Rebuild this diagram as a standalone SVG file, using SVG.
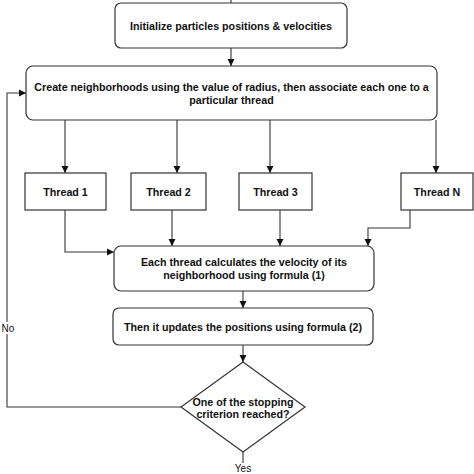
<svg xmlns="http://www.w3.org/2000/svg" width="474" height="474" viewBox="0 0 474 474">
<defs>
<marker id="ah" markerWidth="8" markerHeight="8" refX="7" refY="4" orient="auto" markerUnits="userSpaceOnUse">
<path d="M0,0.5 L7,4 L0,7.5 Z" fill="#111"/>
</marker>
<style>
.box{fill:#fff;stroke:#333;stroke-width:1.2}
.t{font-family:"Liberation Sans",Arial,sans-serif;font-size:10.7px;font-weight:bold;fill:#111;text-anchor:middle}
.n{font-family:"Liberation Sans",Arial,sans-serif;font-size:10px;fill:#111;text-anchor:middle}
.c{fill:none;stroke:#333;stroke-width:1.1}
.a{fill:none;stroke:#333;stroke-width:1.1;marker-end:url(#ah)}
</style>
</defs>
<rect width="474" height="474" fill="#fff"/>
<g id="connectors">
<line class="c" x1="231" y1="0" x2="231" y2="3"/>
<line class="a" x1="231" y1="48" x2="231" y2="66"/>
<line class="a" x1="65" y1="120" x2="65" y2="173"/>
<line class="a" x1="177" y1="120" x2="177" y2="173"/>
<line class="a" x1="270" y1="120" x2="270" y2="173"/>
<line class="a" x1="436" y1="120" x2="436" y2="173"/>
<polyline class="a" points="65,210 65,252 114,252"/>
<line class="a" x1="172" y1="210" x2="172" y2="246"/>
<line class="a" x1="280" y1="210" x2="280" y2="246"/>
<polyline class="a" points="410,210 410,228 368,228 368,246"/>
<line class="a" x1="243" y1="291" x2="243" y2="308"/>
<line class="a" x1="243" y1="345" x2="243" y2="362"/>
<polyline class="a" points="181,407 7,407 7,93 26,93"/>
<line class="c" x1="243" y1="452" x2="243" y2="463"/>
</g>
<g id="init">
<rect class="box" x="115" y="3" width="232" height="45" rx="6"/>
<text class="t" x="231" y="29.5">Initialize particles positions &amp; velocities</text>
</g>
<g id="create">
<rect class="box" x="26" y="66" width="411" height="54" rx="7"/>
<text class="t" x="231.5" y="90.5">Create neighborhoods using the value of radius, then associate each one to a</text>
<text class="t" x="231.5" y="104">particular thread</text>
</g>
<g id="thread1">
<rect class="box" x="25" y="173" width="81" height="37"/>
<text class="t" x="65.5" y="195.5">Thread 1</text>
</g>
<g id="thread2">
<rect class="box" x="131" y="173" width="75" height="37"/>
<text class="t" x="168.5" y="195.5">Thread 2</text>
</g>
<g id="thread3">
<rect class="box" x="239" y="173" width="73" height="37"/>
<text class="t" x="275.5" y="195.5">Thread 3</text>
</g>
<g id="threadN">
<rect class="box" x="401" y="173" width="72" height="37"/>
<text class="t" x="437" y="195.5">Thread N</text>
</g>
<g id="velocity">
<rect class="box" x="114" y="246" width="260" height="45" rx="7"/>
<text class="t" x="244" y="265.5">Each thread calculates the velocity of its</text>
<text class="t" x="244" y="278.5">neighborhood using formula (1)</text>
</g>
<g id="positions">
<rect class="box" x="113" y="308" width="260" height="37" rx="6"/>
<text class="t" x="243" y="330.5">Then it updates the positions using formula (2)</text>
</g>
<g id="decision">
<polygon class="box" points="243,362 305,407 243,452 181,407"/>
<text class="t" x="243" y="405.5">One of the stopping</text>
<text class="t" x="243" y="418">criterion reached?</text>
</g>
<g id="labels">
<rect x="2" y="322" width="12" height="12" fill="#fff"/>
<text class="n" x="8" y="331.5">No</text>
<text class="n" x="243" y="472">Yes</text>
</g>
</svg>
